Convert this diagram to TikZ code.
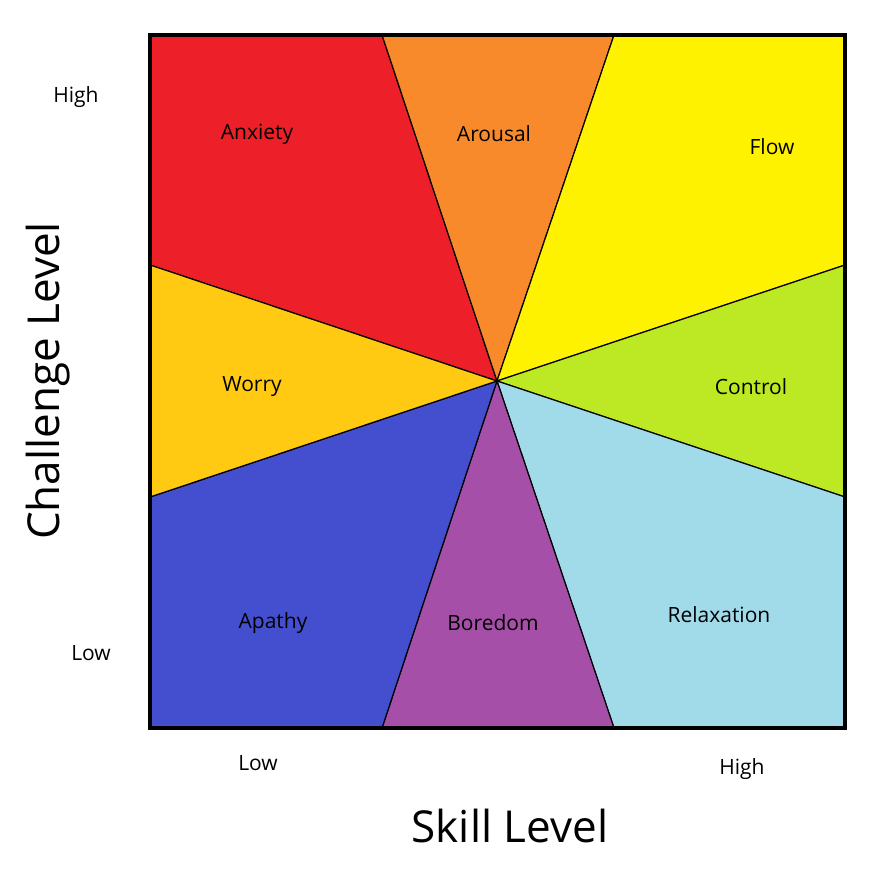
\documentclass[tikz,border=0pt]{standalone}
\usepackage{fontspec}
\setmainfont{Open Sans}
\definecolor{anx}{HTML}{ED2029}
\definecolor{aro}{HTML}{F98A2C}
\definecolor{flo}{HTML}{FFF200}
\definecolor{con}{HTML}{BCE923}
\definecolor{rel}{HTML}{A1DBEA}
\definecolor{bor}{HTML}{A64FA8}
\definecolor{apa}{HTML}{434FCF}
\definecolor{wor}{HTML}{FFCA11}
\begin{document}
\begin{tikzpicture}[x=1pt,y=-1pt,
  sec/.style={draw=black,line width=1.2pt,line join=round},
  lab/.style={font=\fontsize{21}{24}\selectfont},
  ax/.style={font=\fontsize{21}{24}\selectfont},
  title/.style={font=\fontsize{44}{50}\selectfont}]
\useasboundingbox (0,0) rectangle (885,877);
\fill[white] (0,0) rectangle (885,877);
\coordinate (c) at (497,381);
\filldraw[sec,fill=anx] (c) -- (150,265) -- (150,35) -- (382,35) -- cycle;
\filldraw[sec,fill=aro] (c) -- (382,35) -- (614,35) -- cycle;
\filldraw[sec,fill=flo] (c) -- (614,35) -- (845,35) -- (845,265) -- cycle;
\filldraw[sec,fill=con] (c) -- (845,265) -- (845,497) -- cycle;
\filldraw[sec,fill=rel] (c) -- (845,497) -- (845,728) -- (614,728) -- cycle;
\filldraw[sec,fill=bor] (c) -- (614,728) -- (382,728) -- cycle;
\filldraw[sec,fill=apa] (c) -- (382,728) -- (150,728) -- (150,497) -- cycle;
\filldraw[sec,fill=wor] (c) -- (150,497) -- (150,265) -- cycle;
\draw[line width=4.5pt] (150,35) rectangle (845,728);
\node[lab] (n1) at (257,134) {Anxiety};
\node[lab] (n2) at (494,134) {Arousal};
\node[lab] (n3) at (772,147) {Flow};
\node[lab] (n4) at (751,387) {Control};
\node[lab] (n5) at (719,615) {Relaxation};
\node[lab] (n6) at (493,623) {Boredom};
\node[lab] (n7) at (273,623) {Apathy};
\node[lab] (n8) at (252,387) {Worry};
\node[ax] (h1) at (76,97) {High};
\node[ax] (l1) at (91,653) {Low};
\node[ax] (l2) at (258,763) {Low};
\node[ax] (h2) at (742,769) {High};
\node[title] (sx) at (510,826) {Skill Level};
\node[title,rotate=90] (sy) at (48,381) {Challenge Level};
\end{tikzpicture}
\end{document}
